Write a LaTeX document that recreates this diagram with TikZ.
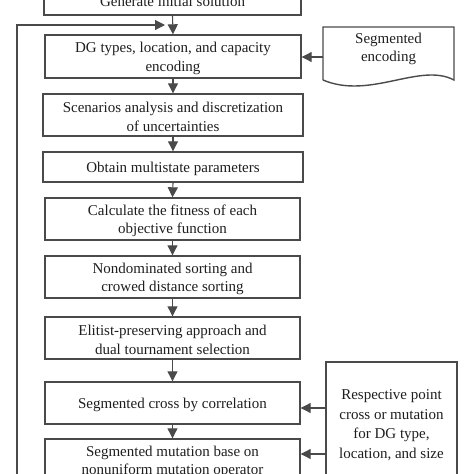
\documentclass[tikz,border=0pt]{standalone}
\usepackage{fontspec}
\setmainfont{Liberation Serif}
\usetikzlibrary{arrows.meta}
\definecolor{ln}{HTML}{4A4A4A}
\definecolor{tx}{HTML}{1E1E1E}
\tikzset{
  txt/.style={align=center, text=tx, font=\fontsize{15}{18.5}\selectfont, inner sep=0pt},
  box/.style={draw=ln, line width=1.4pt, rectangle, inner sep=0pt},
  arr/.style={draw=ln, line width=1.1pt, -{Triangle[length=10pt,width=10pt]}},
  ln/.style={draw=ln, line width=1.4pt}
}
\newcommand{\bx}[6]{% name, cx, cy, w, h, text
  \node[box, minimum width=#4pt, minimum height=#5pt] (#1) at (#2,#3) {};
  \node[txt, yshift=-2pt] (#1-t) at (#1.center) {#6};}
\begin{document}
\begin{tikzpicture}[x=1pt,y=-1pt]
\useasboundingbox (0,0) rectangle (474,474);
\clip (0,0) rectangle (474,474);
\bx{init}{172.5}{-1}{257}{32}{Generate initial solution}
\bx{dg}{173}{56.5}{256}{43}{DG types, location, and capacity\\encoding}
\bx{scen}{173}{115}{260}{42}{Scenarios analysis and discretization\\of uncertainties}
\bx{obt}{173}{167}{260}{30}{Obtain multistate parameters}
\bx{calc}{172.5}{219}{255}{42}{Calculate the fitness of each\\objective function}
\bx{nond}{172.5}{277}{255}{42}{Nondominated sorting and\\crowed distance sorting}
\bx{elit}{172.5}{338}{255}{42}{Elitist-preserving approach and\\dual tournament selection}
\bx{cross}{172.5}{403}{255}{42}{Segmented cross by correlation}
\bx{mut}{172.5}{460}{255}{42}{Segmented mutation base on\\nonuniform mutation operator}
\node[box, minimum width=131pt, minimum height=122pt] (resp) at (391.5,423) {};
\node[txt, font=\fontsize{15}{19.5}\selectfont, yshift=-2pt] (resp-t) at (resp.center) {Respective point\\cross or mutation\\for DG type,\\location, and size};
% document shape
\draw[ln] (323,80) -- (323,27) -- (454,27) -- (454,80)
  .. controls (420,62) and (370,100) .. (323,80);
\node[txt] (seg) at (388.5,49) {Segmented\\encoding};
\coordinate (segw) at (323,57);
% arrows
\draw[arr] (init.south) -- (dg.north);
\draw[arr] (dg.south) -- (scen.north);
\draw[arr] (scen.south) -- (obt.north);
\draw[arr] (obt.south) -- (calc.north);
\draw[arr] (calc.south) -- (nond.north);
\draw[arr] (nond.south) -- (elit.north);
\draw[arr] (elit.south) -- (cross.north);
\draw[arr] (cross.south) -- (mut.north);
\draw[arr] (segw) -- (dg.east |- segw);
\draw[arr] (resp.west |- 0,408) -- (cross.east |- 0,408);
\draw[arr] (resp.west |- 0,454) -- (mut.east |- 0,454);
% loop
\coordinate (lb) at (17,490);
\coordinate (lt) at (165,25);
\draw[arr] (lb) |- (lt);
\end{tikzpicture}
\end{document}
